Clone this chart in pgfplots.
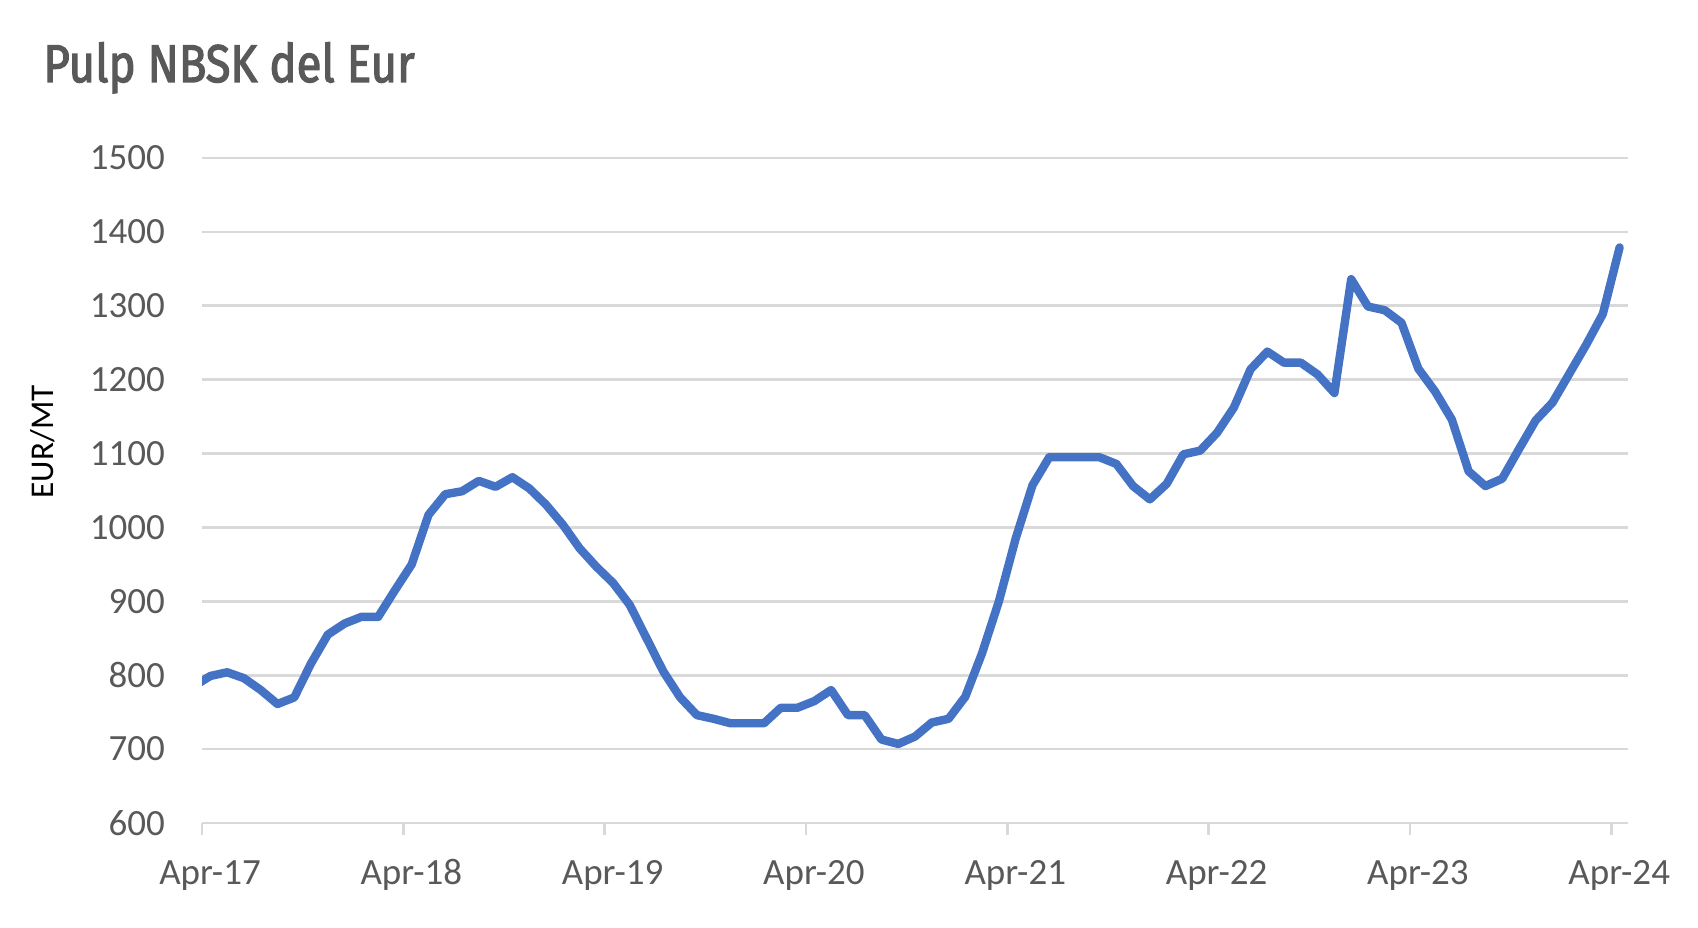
\documentclass[border=0pt]{standalone}
\usepackage{fontspec}
\setmainfont{Carlito}
\newfontfamily\titlefont{Fira Sans}[BoldFont={Fira Sans}, BoldFeatures={FakeBold=2.5}]
\usepackage{graphicx}
\usepackage{pgfplots}
\usepackage{pgfplotstable}
\pgfplotsset{compat=1.18}
\definecolor{linecol}{HTML}{4472C4}
\definecolor{gridcol}{HTML}{D9D9D9}
\definecolor{txtcol}{HTML}{595959}
\pgfplotstableread{
x y
-0.5 785
0.5 799
1.5 804
2.5 796
3.5 780
4.5 761
5.5 770
6.5 816
7.5 855
8.5 870
9.5 879
10.5 879
11.5 915
12.5 950
13.5 1017
14.5 1045
15.5 1049
16.5 1063
17.5 1055
18.5 1068
19.5 1053
20.5 1031
21.5 1004
22.5 972
23.5 947
24.5 925
25.5 895
26.5 850
27.5 805
28.5 770
29.5 746
30.5 741
31.5 735
32.5 735
33.5 735
34.5 756
35.5 756
36.5 765
37.5 780
38.5 746
39.5 746
40.5 713
41.5 707
42.5 717
43.5 736
44.5 741
45.5 771
46.5 830
47.5 900
48.5 985
49.5 1057
50.5 1095
51.5 1095
52.5 1095
53.5 1095
54.5 1086
55.5 1056
56.5 1038
57.5 1059
58.5 1099
59.5 1104
60.5 1128
61.5 1162
62.5 1214
63.5 1238
64.5 1223
65.5 1223
66.5 1207
67.5 1182
68.5 1336
69.5 1299
70.5 1294
71.5 1277
72.5 1215
73.5 1184
74.5 1146
75.5 1076
76.5 1056
77.5 1066
78.5 1106
79.5 1145
80.5 1169
81.5 1208
82.5 1247
83.5 1289
84.5 1379
}\pulpdata
\begin{document}
\begin{tikzpicture}
\path[use as bounding box] (0,0) rectangle (849pt,463.5pt);
\begin{axis}[
  at={(101pt,52pt)}, anchor=south west,
  scale only axis, width=713pt, height=332.5pt,
  xmin=0, xmax=85, ymin=600, ymax=1500,
  axis line style={draw=none},
  ytick={600,700,...,1500},
  ymajorgrids, grid style={draw=gridcol, line width=1.3pt},
  ytick style={draw=none},
  xtick={0,12,24,36,48,60,72,84},
  xticklabels={Apr-17,Apr-18,Apr-19,Apr-20,Apr-21,Apr-22,Apr-23,Apr-24},
  xtick style={draw=gridcol, line width=1.3pt},
  tick pos=lower, tick align=outside, major tick length=6pt,
  scaled y ticks=false,
  /pgf/number format/1000 sep={},
  /pgf/number format/assume math mode=true,
  yticklabel style={font=\fontsize{18.5}{20}\selectfont, text=txtcol, anchor=east, inner sep=0pt, xshift=-12.4pt},
  xticklabel style={font=\fontsize{18.5}{20}\selectfont, text=txtcol, anchor=base, inner sep=0pt, yshift=-24.8pt, xshift=4pt},
  clip=true,
]
\addplot[color=linecol, line width=4.2pt, line join=round, line cap=round] table[x=x, y=y] {\pulpdata};
\end{axis}
\node[anchor=base west, inner sep=0pt, text=txtcol] at (21.5pt,422.5pt) {\scalebox{0.86}[1]{\titlefont\fontsize{26.5}{30}\selectfont\bfseries Pulp NBSK del Eur}};
\node[rotate=90, anchor=center, inner sep=0pt] at (21.3pt,242.6pt) {\fontsize{16.6}{18}\selectfont EUR/MT};
\end{tikzpicture}
\end{document}
